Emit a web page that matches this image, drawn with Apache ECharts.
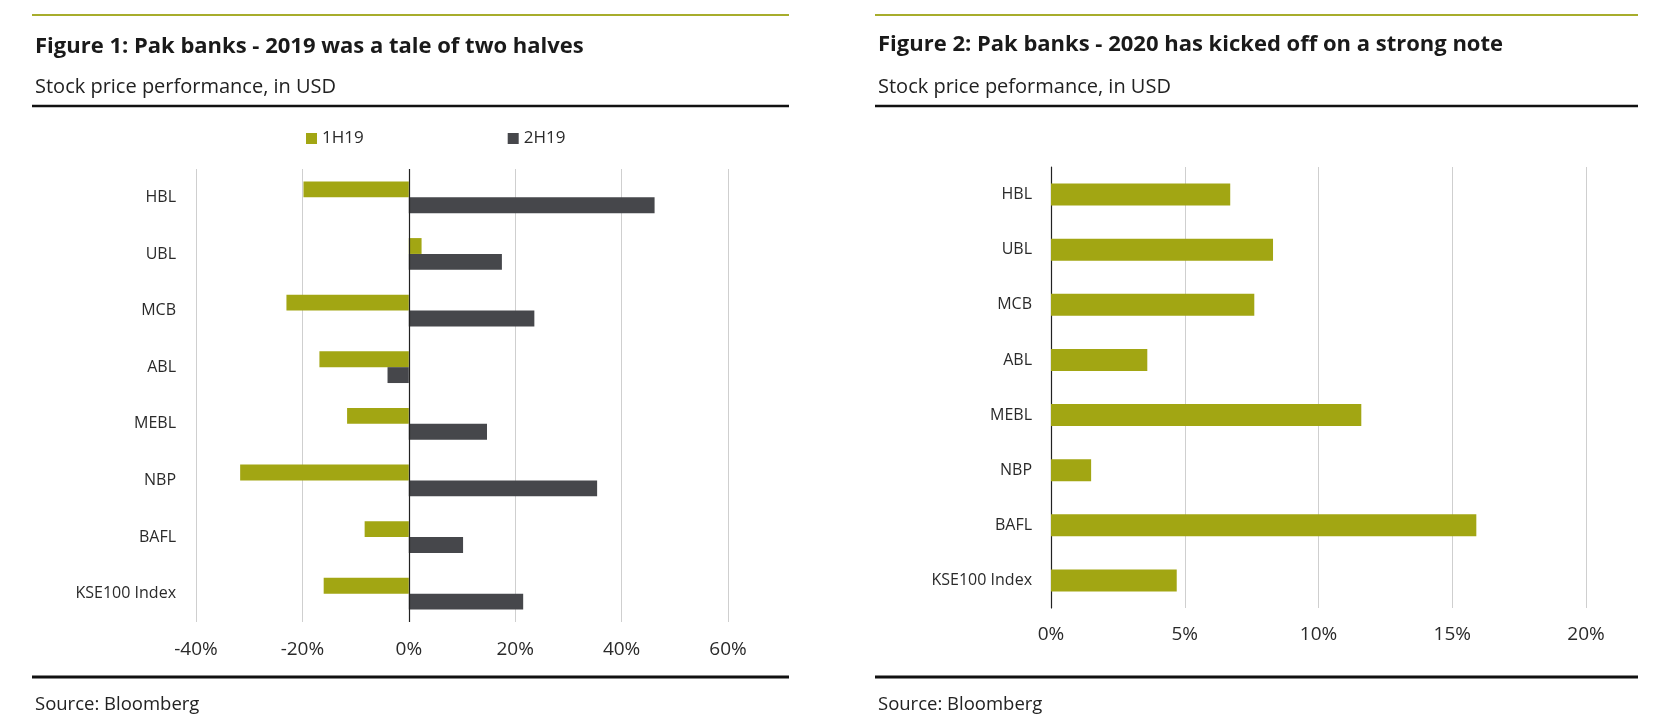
<!DOCTYPE html>
<html>
<head>
<meta charset="utf-8">
<script src="https://cdn.jsdelivr.net/npm/echarts@6/dist/echarts.min.js"></script>
<style>
  html, body { margin: 0; padding: 0; background: #fff; }
  #chart { width: 1668px; height: 724px; }
</style>
</head>
<body>
<div id="chart"></div>
<script>
// Pak banks stock price performance, two panels

var banks = ['HBL', 'UBL', 'MCB', 'ABL', 'MEBL', 'NBP', 'BAFL', 'KSE100 Index'];
var h119 = [-19.8, 2.4, -23.0, -16.8, -11.6, -31.7, -8.3, -16.0];
var h219 = [46.2, 17.5, 23.6, -4.0, 14.7, 35.4, 10.2, 21.5];
var ytd20 = [6.7, 8.3, 7.6, 3.6, 11.6, 1.5, 15.9, 4.7];

var leftTicks = { min: -40, max: 60, step: 20 };
var rightTicks = { min: 0, max: 20, step: 5 };

var green = '#a2a613';
var dark = '#46474b';
var font = 'Open Sans';

var myChart = echarts.init(document.getElementById('chart'));

function hline(x1, x2, y, color, w) {
    return {
        type: 'line',
        shape: { x1: x1, y1: y, x2: x2, y2: y },
        style: { stroke: color, lineWidth: w }
    };
}

var titleStyle = { fontFamily: font, fontSize: 22, fontWeight: 'bold', color: '#1a1a1a' };
var subStyle = { fontFamily: font, fontSize: 20, fontWeight: 'normal', color: '#222' };
var srcStyle = { fontFamily: font, fontSize: 18.5, fontWeight: 'normal', color: '#222' };
var labelStyle = { fontFamily: font, fontSize: 16, color: '#2a2a2a' };
var tickStyle = { fontFamily: font, fontSize: 19, color: '#2a2a2a' };

var option = {
    animation: false,
    title: [
        { text: 'Figure 1: Pak banks - 2019 was a tale of two halves', left: 30, top: 31, textStyle: titleStyle },
        { text: 'Stock price performance, in USD', left: 30, top: 72, textStyle: subStyle },
        { text: 'Source: Bloomberg', left: 30, top: 690, textStyle: srcStyle },
        { text: 'Figure 2: Pak banks - 2020 has kicked off on a strong note', left: 873, top: 29, textStyle: titleStyle },
        { text: 'Stock price peformance, in USD', left: 873, top: 72, textStyle: subStyle },
        { text: 'Source: Bloomberg', left: 873, top: 690, textStyle: srcStyle }
    ],
    legend: {
        data: ['1H19', '2H19'],
        left: 301,
        top: 125,
        itemWidth: 11,
        itemHeight: 11,
        itemGap: 144,
        icon: 'rect',
        textStyle: { fontFamily: font, fontSize: 17, color: '#2a2a2a' }
    },
    graphic: [
        hline(32, 789, 15, '#a7ad2c', 2),
        hline(32, 789, 106, '#111', 2.5),
        hline(32, 789, 677, '#111', 3),
        hline(875, 1638, 15, '#a7ad2c', 2),
        hline(875, 1638, 106, '#111', 2.5),
        hline(875, 1638, 677, '#111', 3)
    ],
    grid: [
        { left: 196, right: 940, top: 169, height: 453 },
        { left: 1051, right: 82, top: 167, height: 441 }
    ],
    xAxis: [
        {
            type: 'value', gridIndex: 0,
            min: leftTicks.min, max: leftTicks.max, interval: leftTicks.step,
            axisLine: { show: false }, axisTick: { show: false },
            axisLabel: { formatter: '{value}%', margin: 18, ...tickStyle },
            splitLine: { lineStyle: { color: '#cfcfcf', width: 1 } }
        },
        {
            type: 'value', gridIndex: 1,
            min: rightTicks.min, max: rightTicks.max, interval: rightTicks.step,
            axisLine: { show: false }, axisTick: { show: false },
            axisLabel: { formatter: '{value}%', margin: 17, ...tickStyle },
            splitLine: { lineStyle: { color: '#cfcfcf', width: 1 } }
        }
    ],
    yAxis: [
        {
            type: 'category', gridIndex: 0, data: banks, inverse: true,
            axisLine: { show: false }, axisTick: { show: false },
            axisLabel: { margin: 20, ...labelStyle }
        },
        {
            type: 'category', gridIndex: 1, data: banks, inverse: true,
            axisLine: { show: true, onZero: false, lineStyle: { color: '#222', width: 1.2 } },
            axisTick: { show: false },
            axisLabel: { margin: 19, ...labelStyle }
        }
    ],
    series: [
        {
            name: '1H19', type: 'bar', xAxisIndex: 0, yAxisIndex: 0,
            data: h119, itemStyle: { color: green },
            barGap: '0%', barCategoryGap: '44%',
            markLine: {
                silent: true, symbol: 'none', label: { show: false },
                lineStyle: { color: '#222', type: 'solid', width: 1.2 },
                data: [{ xAxis: 0 }]
            }
        },
        {
            name: '2H19', type: 'bar', xAxisIndex: 0, yAxisIndex: 0,
            data: h219, itemStyle: { color: dark },
            barGap: '0%', barCategoryGap: '44%'
        },
        {
            name: '2020', type: 'bar', xAxisIndex: 1, yAxisIndex: 1,
            data: ytd20, itemStyle: { color: green },
            barCategoryGap: '60%'
        }
    ]
};

myChart.setOption(option);
</script>
</body>
</html>
